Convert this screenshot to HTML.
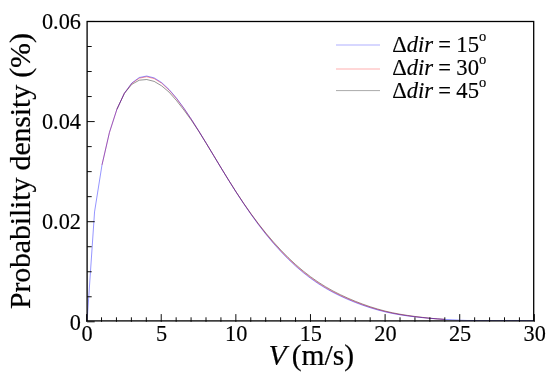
<!DOCTYPE html>
<html><head><meta charset="utf-8"><title>Probability density</title>
<style>
html,body{margin:0;padding:0;background:#fff;}
svg{display:block;font-family:"Liberation Serif","DejaVu Serif",serif;fill:#000;}
</style></head>
<body>
<svg width="550" height="378" viewBox="0 0 550 378">
<rect x="0" y="0" width="550" height="378" fill="#fff"/>
<path d="M116.90,109.31 L124.35,93.47 L131.80,84.34 L139.25,80.21 L146.70,79.53 L154.15,81.39 L161.60,85.82 L169.05,92.10 L176.50,100.56 L183.95,110.07 L191.40,120.24 L198.85,131.52 L206.30,143.49 L213.75,155.74 L221.20,168.03 L228.65,180.15 L236.10,191.91 L243.55,203.12 L251.00,213.75 L258.45,223.76 L265.90,233.15 L273.35,241.89 L280.80,250.03 L288.25,257.61 L295.70,264.58 L303.15,270.96 L310.60,276.76 L318.05,281.99 L325.50,286.69 L332.95,290.92 L340.40,294.70 L347.85,298.13 L355.30,301.28 L362.75,304.14 L370.20,306.73 L377.65,309.03 L385.10,311.05 L392.55,312.78 L400.00,314.21 L407.45,315.40 L414.90,316.44 L422.35,317.36 L429.80,318.17 L437.25,318.86 L444.70,319.40" fill="none" stroke="#000000" stroke-width="0.42" stroke-linejoin="round"/>
<path d="M102.00,164.88 L109.45,132.43 L116.90,109.31 L124.35,93.28 L131.80,83.35 L139.25,78.21 L146.70,76.73 L154.15,78.59 L161.60,83.20 L169.05,90.04 L176.50,98.61 L183.95,108.50 L191.40,119.42 L198.85,131.12 L206.30,143.32 L213.75,155.69 L221.20,168.05 L228.65,180.20 L236.10,192.01 L243.55,203.33 L251.00,214.07 L258.45,224.21 L265.90,233.75 L273.35,242.65 L280.80,250.90 L288.25,258.50 L295.70,265.48 L303.15,271.86 L310.60,277.64 L318.05,282.86 L325.50,287.55 L332.95,291.74 L340.40,295.47 L347.85,298.85 L355.30,301.94 L362.75,304.75 L370.20,307.29 L377.65,309.54 L385.10,311.51 L392.55,313.18 L400.00,314.56 L407.45,315.70 L414.90,316.69 L422.35,317.54 L429.80,318.28 L437.25,318.89 L444.70,319.40" fill="none" stroke="#ff0000" stroke-width="0.42" stroke-linejoin="round"/>
<path d="M87.10,321.30 L94.55,211.86 L102.00,164.88 L109.45,132.43 L116.90,109.31 L124.35,93.28 L131.80,83.00 L139.25,77.51 L146.70,76.03 L154.15,77.89 L161.60,82.53 L169.05,89.44 L176.50,98.13 L183.95,108.22 L191.40,119.32 L198.85,131.12 L206.30,143.34 L213.75,155.74 L221.20,168.11 L228.65,180.28 L236.10,192.11 L243.55,203.49 L251.00,214.35 L258.45,224.61 L265.90,234.25 L273.35,243.22 L280.80,251.53 L288.25,259.18 L295.70,266.18 L303.15,272.55 L310.60,278.33 L318.05,283.53 L325.50,288.19 L332.95,292.36 L340.40,296.07 L347.85,299.42 L355.30,302.48 L362.75,305.25 L370.20,307.73 L377.65,309.94 L385.10,311.85 L392.55,313.48 L400.00,314.81 L407.45,315.90 L414.90,316.84 L422.35,317.64 L429.80,318.32 L437.25,318.90 L444.70,319.40 L452.15,319.81 L459.60,320.16 L467.05,320.46 L474.50,320.50 L481.95,320.50 L489.40,320.50 L496.85,320.50 L504.30,320.50 L511.75,320.50 L519.20,320.50 L526.65,320.50 L534.10,320.50" fill="none" stroke="#0000ff" stroke-width="0.42" stroke-linejoin="round"/>
<rect x="87.1" y="21.5" width="446.60" height="299.40" fill="none" stroke="#000" stroke-width="1.3"/>
<path d="M87.1,321.80h7.6 M87.1,296.77h4.6 M87.1,271.75h4.6 M87.1,246.72h4.6 M87.1,221.69h7.6 M87.1,196.66h4.6 M87.1,171.63h4.6 M87.1,146.61h4.6 M87.1,121.58h7.6 M87.1,96.55h4.6 M87.1,71.52h4.6 M87.1,46.50h4.6 M87.1,21.47h7.6 M86.60,321.79999999999995v-7.7 M101.52,321.79999999999995v-4.5 M116.45,321.79999999999995v-4.5 M131.38,321.79999999999995v-4.5 M146.30,321.79999999999995v-4.5 M161.22,321.79999999999995v-7.7 M176.15,321.79999999999995v-4.5 M191.07,321.79999999999995v-4.5 M206.00,321.79999999999995v-4.5 M220.93,321.79999999999995v-4.5 M235.85,321.79999999999995v-7.7 M250.78,321.79999999999995v-4.5 M265.70,321.79999999999995v-4.5 M280.62,321.79999999999995v-4.5 M295.55,321.79999999999995v-4.5 M310.48,321.79999999999995v-7.7 M325.40,321.79999999999995v-4.5 M340.33,321.79999999999995v-4.5 M355.25,321.79999999999995v-4.5 M370.17,321.79999999999995v-4.5 M385.10,321.79999999999995v-7.7 M400.02,321.79999999999995v-4.5 M414.95,321.79999999999995v-4.5 M429.88,321.79999999999995v-4.5 M444.80,321.79999999999995v-4.5 M459.73,321.79999999999995v-7.7 M474.65,321.79999999999995v-4.5 M489.58,321.79999999999995v-4.5 M504.50,321.79999999999995v-4.5 M519.43,321.79999999999995v-4.5 M534.35,321.79999999999995v-7.7" fill="none" stroke="#000" stroke-width="0.95"/>
<g font-size="22.3" stroke="#000" stroke-width="0.15"><text x="81" y="330.0" text-anchor="end">0</text><text x="81" y="228.8" text-anchor="end">0.02</text><text x="81" y="129.1" text-anchor="end">0.04</text><text x="81" y="29.4" text-anchor="end">0.06</text><text x="87.00" y="341.2" text-anchor="middle">0</text><text x="161.62" y="341.2" text-anchor="middle">5</text><text x="236.25" y="341.2" text-anchor="middle">10</text><text x="310.88" y="341.2" text-anchor="middle">15</text><text x="385.50" y="341.2" text-anchor="middle">20</text><text x="460.12" y="341.2" text-anchor="middle">25</text><text x="534.75" y="341.2" text-anchor="middle">30</text></g>
<g font-size="29.5" stroke="#000" stroke-width="0.2"><text x="268.5" y="365.3" font-style="italic">V</text><text x="291.8" y="365.3">(m/s)</text><text transform="translate(30,171.2) rotate(-90)" text-anchor="middle" font-size="30" letter-spacing="-0.18">Probability density (%)</text></g>
<line x1="336" x2="380" y1="45.0" y2="45.0" stroke="#0000ff" stroke-width="0.32"/>
<text x="392.2" y="52.0" font-size="22.6" stroke="#000" stroke-width="0.15" word-spacing="-0.4">Δ<tspan font-style="italic">dir</tspan> = 15<tspan font-size="14.5" dy="-10.9">o</tspan></text>
<line x1="336" x2="380" y1="69.0" y2="69.0" stroke="#ff0000" stroke-width="0.32"/>
<text x="392.2" y="75.0" font-size="22.6" stroke="#000" stroke-width="0.15" word-spacing="-0.4">Δ<tspan font-style="italic">dir</tspan> = 30<tspan font-size="14.5" dy="-10.9">o</tspan></text>
<line x1="336" x2="380" y1="90.6" y2="90.6" stroke="#000000" stroke-width="0.34"/>
<text x="392.2" y="98.0" font-size="22.6" stroke="#000" stroke-width="0.15" word-spacing="-0.4">Δ<tspan font-style="italic">dir</tspan> = 45<tspan font-size="14.5" dy="-10.9">o</tspan></text>
</svg>
</body></html>
